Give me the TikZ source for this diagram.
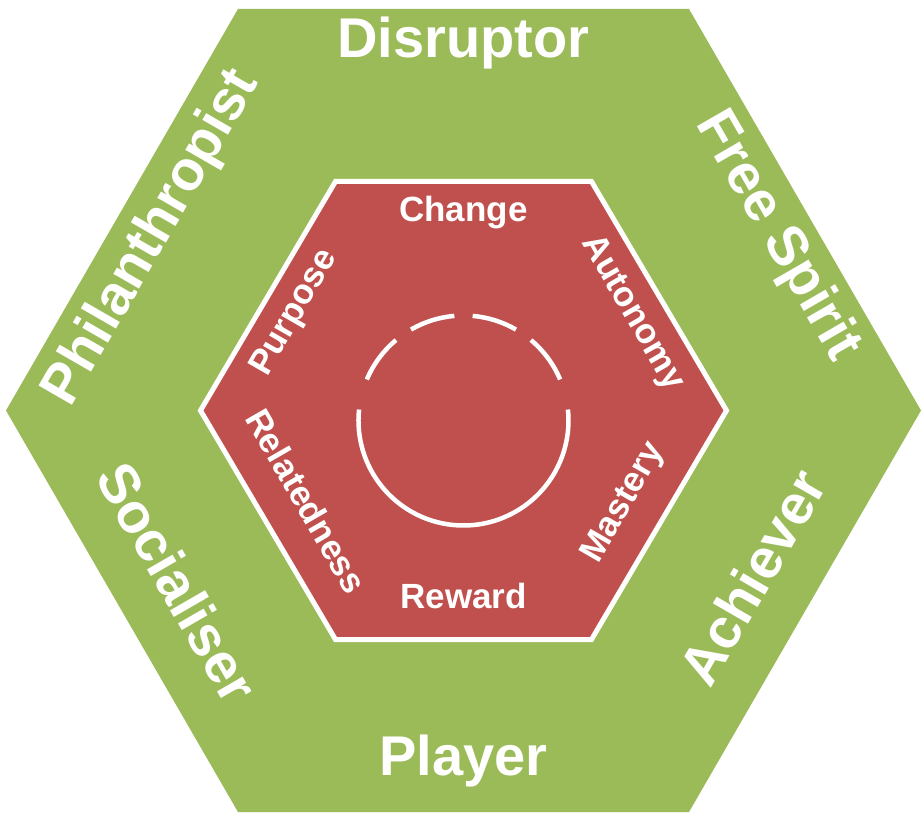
\documentclass[tikz,border=0pt]{standalone}
\usepackage{fontspec}
\setmainfont{Liberation Sans}
\definecolor{HexGreen}{RGB}{155,187,89}
\definecolor{HexRed}{RGB}{192,80,77}
\tikzset{
  typelabel/.style={text=white,font=\fontsize{56}{60}\selectfont\bfseries,
    inner sep=0pt,text height=0.72em,text depth=0pt},
  drivelabel/.style={text=white,font=\fontsize{35}{40}\selectfont\bfseries,
    inner sep=0pt,text height=0.72em,text depth=0pt},
  ring/.style={white,line width=4.5pt}
}

\begin{document}
\begin{tikzpicture}[x=1pt,y=1pt]
\useasboundingbox (-463.5,-419.5) rectangle (458.5,410.5);

% outer hexagon
\fill[HexGreen]
  (-225.5,401.5) -- (225.5,401.5)
  -- (457.5,0) -- (225.5,-401.5)
  -- (-225.5,-401.5) -- (-457.5,0) -- cycle;

% inner hexagon
\draw[white,line width=5pt,fill=HexRed]
  (-128,229) -- (128,229)
  -- (263,0) -- (128,-229)
  -- (-128,-229) -- (-263,0) -- cycle;

% ring: solid below, dashes above
\coordinate (ringc) at (0,-10);
\draw[ring] (ringc) ++(174:105) arc[start angle=174,end angle=366,radius=105];
\foreach \a/\b in {23/50,60/85,95/120,130/157}
  \draw[ring] (ringc) ++(\a:105) arc[start angle=\a,end angle=\b,radius=105];

% player types
\node[typelabel] (disruptor) at (90:357) {Disruptor};
\node[typelabel,rotate=-60] (freespirit) at (29:348) {Free Spirit};
\node[typelabel,rotate=60] (achiever) at (330:350) {Achiever};
\node[typelabel] (player) at (270:361) {Player};
\node[typelabel,rotate=-60] (socialiser) at (211:350) {Socialiser};
\node[typelabel,rotate=60] (philanthropist) at (151:345) {Philanthropist};

% motivations
\node[drivelabel] (change) at (90:193) {Change};
\node[drivelabel,rotate=-60] (autonomy) at (30:190) {Autonomy};
\node[drivelabel,rotate=60] (mastery) at (330:190) {Mastery};
\node[drivelabel] (reward) at (270:194) {Reward};
\node[drivelabel,rotate=-60] (relatedness) at (210:190) {Relatedness};
\node[drivelabel,rotate=60] (purpose) at (150:190) {Purpose};

\end{tikzpicture}
\end{document}
